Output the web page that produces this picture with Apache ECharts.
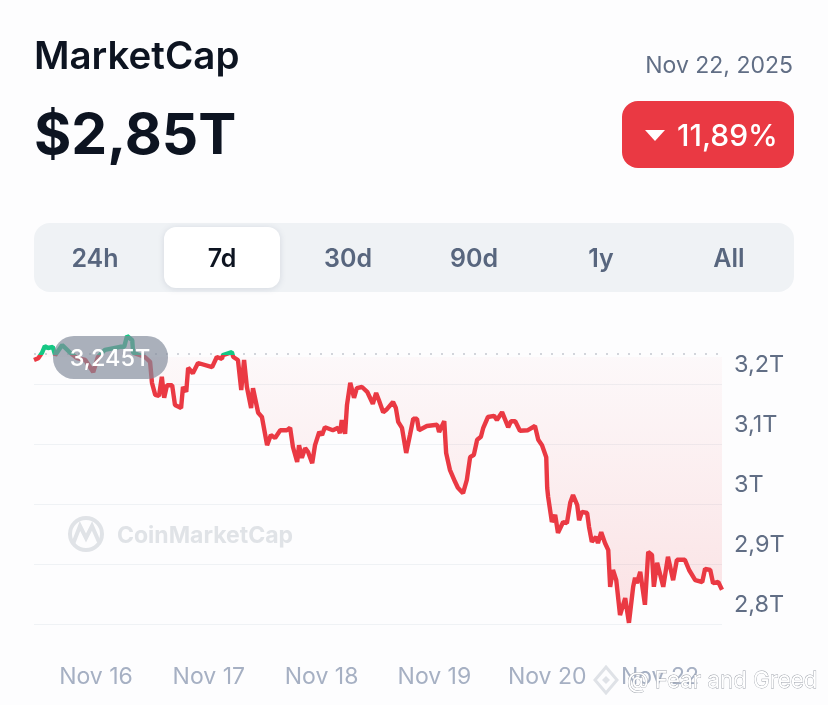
<!DOCTYPE html>
<html>
<head>
<meta charset="utf-8">
<style>html,body{margin:0;padding:0;background:#fdfdfe}#c{width:828px;height:705px}</style>
<script src="https://cdn.jsdelivr.net/npm/echarts@6/dist/echarts.min.js"></script>
</head>
<body>
<div id="c"></div>
<script>
var hours = [-13.2,-12.3,-11.5,-10.9,-10.2,-9.2,-8.7,-7.2,-5.5,-4.0,-2.3,-0.6,0.4,1.9,5.1,6.0,6.6,7.7,7.9,10.4,11.5,11.9,12.6,13.4,14.0,14.5,15.1,16.2,16.8,18.1,18.5,19.2,19.6,20.6,21.7,24.7,25.7,26.8,27.0,28.9,29.2,30.2,30.9,31.5,32.1,33.0,33.4,34.5,35.3,36.4,37.2,38.1,39.2,40.6,41.3,41.9,42.8,43.2,43.8,44.5,45.1,46.0,46.6,47.5,48.1,48.7,50.4,51.5,51.9,52.3,53.0,53.4,54.1,54.9,55.5,56.6,57.7,58.9,59.6,60.2,61.1,61.9,63.2,63.8,64.3,65.1,66.0,66.8,67.5,68.3,68.7,70.4,72.6,73.0,74.1,74.5,75.3,76.4,77.0,78.1,78.9,79.6,80.4,81.1,81.9,82.4,83.4,84.7,85.3,86.4,87.7,88.3,89.2,90.2,91.9,93.4,94.1,94.9,95.8,96.0,96.2,97.0,97.7,98.3,99.4,100.2,100.9,101.5,102.4,102.8,103.4,104.5,104.9,105.5,106.4,106.8,107.5,108.3,109.0,109.4,110.0,110.7,111.5,112.6,113.4,114.3,114.7,115.1,115.8,116.8,117.5,118.3,118.7,119.4,120.7,121.7,122.8,123.6,125.3,126.2,127.5,129.0,129.6,130.7,131.3,132.4,133.2];
var capT = [3.240,3.243,3.252,3.263,3.260,3.262,3.248,3.265,3.252,3.243,3.240,3.220,3.245,3.257,3.262,3.262,3.280,3.273,3.252,3.245,3.237,3.202,3.182,3.180,3.212,3.177,3.198,3.198,3.165,3.160,3.195,3.187,3.227,3.218,3.235,3.228,3.245,3.242,3.248,3.253,3.245,3.240,3.190,3.240,3.195,3.160,3.193,3.152,3.145,3.098,3.115,3.110,3.123,3.123,3.127,3.095,3.070,3.098,3.077,3.093,3.087,3.068,3.098,3.120,3.115,3.128,3.123,3.127,3.118,3.140,3.117,3.165,3.202,3.177,3.193,3.195,3.187,3.167,3.185,3.173,3.153,3.158,3.170,3.160,3.137,3.127,3.085,3.115,3.142,3.142,3.123,3.130,3.132,3.120,3.138,3.085,3.057,3.037,3.027,3.018,3.040,3.078,3.082,3.107,3.112,3.127,3.145,3.147,3.140,3.153,3.128,3.138,3.138,3.122,3.123,3.130,3.107,3.098,3.078,3.027,3.012,2.970,2.982,2.952,2.970,2.968,3.002,3.015,2.998,2.973,2.987,2.985,2.962,2.937,2.945,2.935,2.953,2.935,2.923,2.862,2.890,2.873,2.815,2.843,2.802,2.862,2.877,2.868,2.887,2.832,2.920,2.915,2.862,2.902,2.862,2.912,2.873,2.907,2.907,2.890,2.873,2.870,2.892,2.890,2.868,2.870,2.857];
var dayTicks = [0,24,48,72,96,120];
var dayLabels = ['Nov 16','Nov 17','Nov 18','Nov 19','Nov 20','Nov 22'];
var capTicks = [2.8,2.9,3.0,3.1,3.2];
var capLabels = ['2,8T','2,9T','3T','3,1T','3,2T'];
var baseline = 3.245;
var tabs = ['24h','7d','30d','90d','1y','All'];
var tabCentres = [95,222,348,474,601,729];

var FONT = 'Inter';
var RED = '#ea3943', GREEN = '#16c784';
var points = hours.map(function(h,i){return [h,capT[i]];});
var hi = Math.max.apply(null,capT), lo = Math.min.apply(null,capT);
var split = (hi-baseline)/(hi-lo);

function txt(x,y,s,size,weight,fill,align,z,extra){
  var st = {x:x,y:y,text:s,font:weight+' '+size+'px '+FONT,fill:fill,textAlign:align||'left',textVerticalAlign:'middle'};
  if(extra){for(var k in extra){st[k]=extra[k];}}
  return {type:'text',z:z||10,style:st,silent:true};
}
var gfx = [
  txt(34,57,'MarketCap',38.5,600,'#0d1421'),
  txt(34,137,'$2,85T',57,700,'#0d1421'),
  txt(793,66,'Nov 22, 2025',23,400,'#616e85','right'),
  {type:'rect',z:5,shape:{x:622,y:101,width:172,height:67,r:16},style:{fill:RED}},
  {type:'polygon',z:6,shape:{points:[[645,130],[665,130],[655,141]]},style:{fill:'#fff'}},
  txt(677,137,'11,89%',30,500,'#fff'),
  {type:'rect',z:5,shape:{x:34,y:223,width:760,height:69,r:16},style:{fill:'#eff2f5'}},
  {type:'rect',z:6,shape:{x:164,y:227,width:116,height:61,r:12},style:{fill:'#fff',shadowBlur:6,shadowColor:'rgba(88,102,126,0.18)',shadowOffsetY:1}},
  {type:'ring',z:1,shape:{cx:86,cy:534,r:18,r0:14},style:{fill:'#e0e3e7'}},
  {type:'polyline',z:1,shape:{points:[[73,544],[80,526],[86,538],[92,526],[99,542]]},style:{stroke:'#e0e3e7',lineWidth:4,fill:'none'}},
  txt(117,536,'CoinMarketCap',23,700,'#e0e3e7','left',1),
  {type:'rect',z:30,shape:{x:53,y:336,width:115,height:43,r:21},style:{fill:'rgba(130,138,155,0.68)'}},
  txt(110,359,'3,245T',23.5,500,'#fff','center',31),
  {type:'polygon',z:40,shape:{points:[[606,667],[617,680],[606,693],[595,680]]},style:{fill:'none',stroke:'#dfe2e7',lineWidth:3}},
  {type:'polygon',z:40,shape:{points:[[606,676],[610,680],[606,684],[602,680]]},style:{fill:'#dfe2e7'}},
  txt(627,681,'@ Fear and Greed',22.3,400,'#ffffff','left',41,{stroke:'#9a9fa8',lineWidth:0.8})
];
tabs.forEach(function(t,i){
  gfx.push(txt(tabCentres[i],259,t,25,600,i===1?'#0d1421':'#58667e','center',7));
});

var chart = echarts.init(document.getElementById('c'),null,{renderer:'canvas'});
chart.setOption({
  animation:false,
  backgroundColor:'#fdfdfe',
  grid:{left:34,right:106,top:324,bottom:81},
  xAxis:{
    type:'value',min:-13.2,max:133.2,
    axisLine:{show:false},axisTick:{show:false},splitLine:{show:false},
    axisLabel:{
      customValues:dayTicks,margin:42,fontFamily:FONT,fontSize:23,color:'#a6b0c3',
      formatter:function(v){return dayLabels[dayTicks.indexOf(v)];}
    }
  },
  yAxis:{
    type:'value',position:'right',min:2.8,max:3.3,interval:0.1,
    axisLine:{show:false},axisTick:{show:false},
    splitLine:{show:true,showMaxLine:false,lineStyle:{color:'#eff2f5',width:1}},
    axisLabel:{
      margin:12,fontFamily:FONT,fontSize:23.5,color:'#616e85',verticalAlign:'bottom',padding:[0,0,7,0],
      formatter:function(v){
        for(var i=0;i<capTicks.length;i++){if(Math.abs(capTicks[i]-v)<1e-6){return capLabels[i];}}
        return '';
      }
    }
  },
  series:[{
    type:'line',data:points,showSymbol:false,symbol:'none',clip:false,z:5,
    lineStyle:{
      width:4.4,join:'bevel',
      color:new echarts.graphic.LinearGradient(0,0,0,1,[
        {offset:0,color:GREEN},{offset:split,color:GREEN},
        {offset:split,color:RED},{offset:1,color:RED}
      ])
    },
    areaStyle:{
      origin:baseline,
      color:new echarts.graphic.LinearGradient(0,0,0,1,[
        {offset:0,color:'rgba(234,57,67,0.02)'},
        {offset:1,color:'rgba(234,57,67,0.2)'}
      ])
    },
    markLine:{
      silent:true,symbol:'none',label:{show:false},
      lineStyle:{type:[2,9],color:'#c3c8d0',width:1.5},
      data:[{yAxis:baseline}]
    }
  }],
  graphic:gfx
});
</script>
</body>
</html>
